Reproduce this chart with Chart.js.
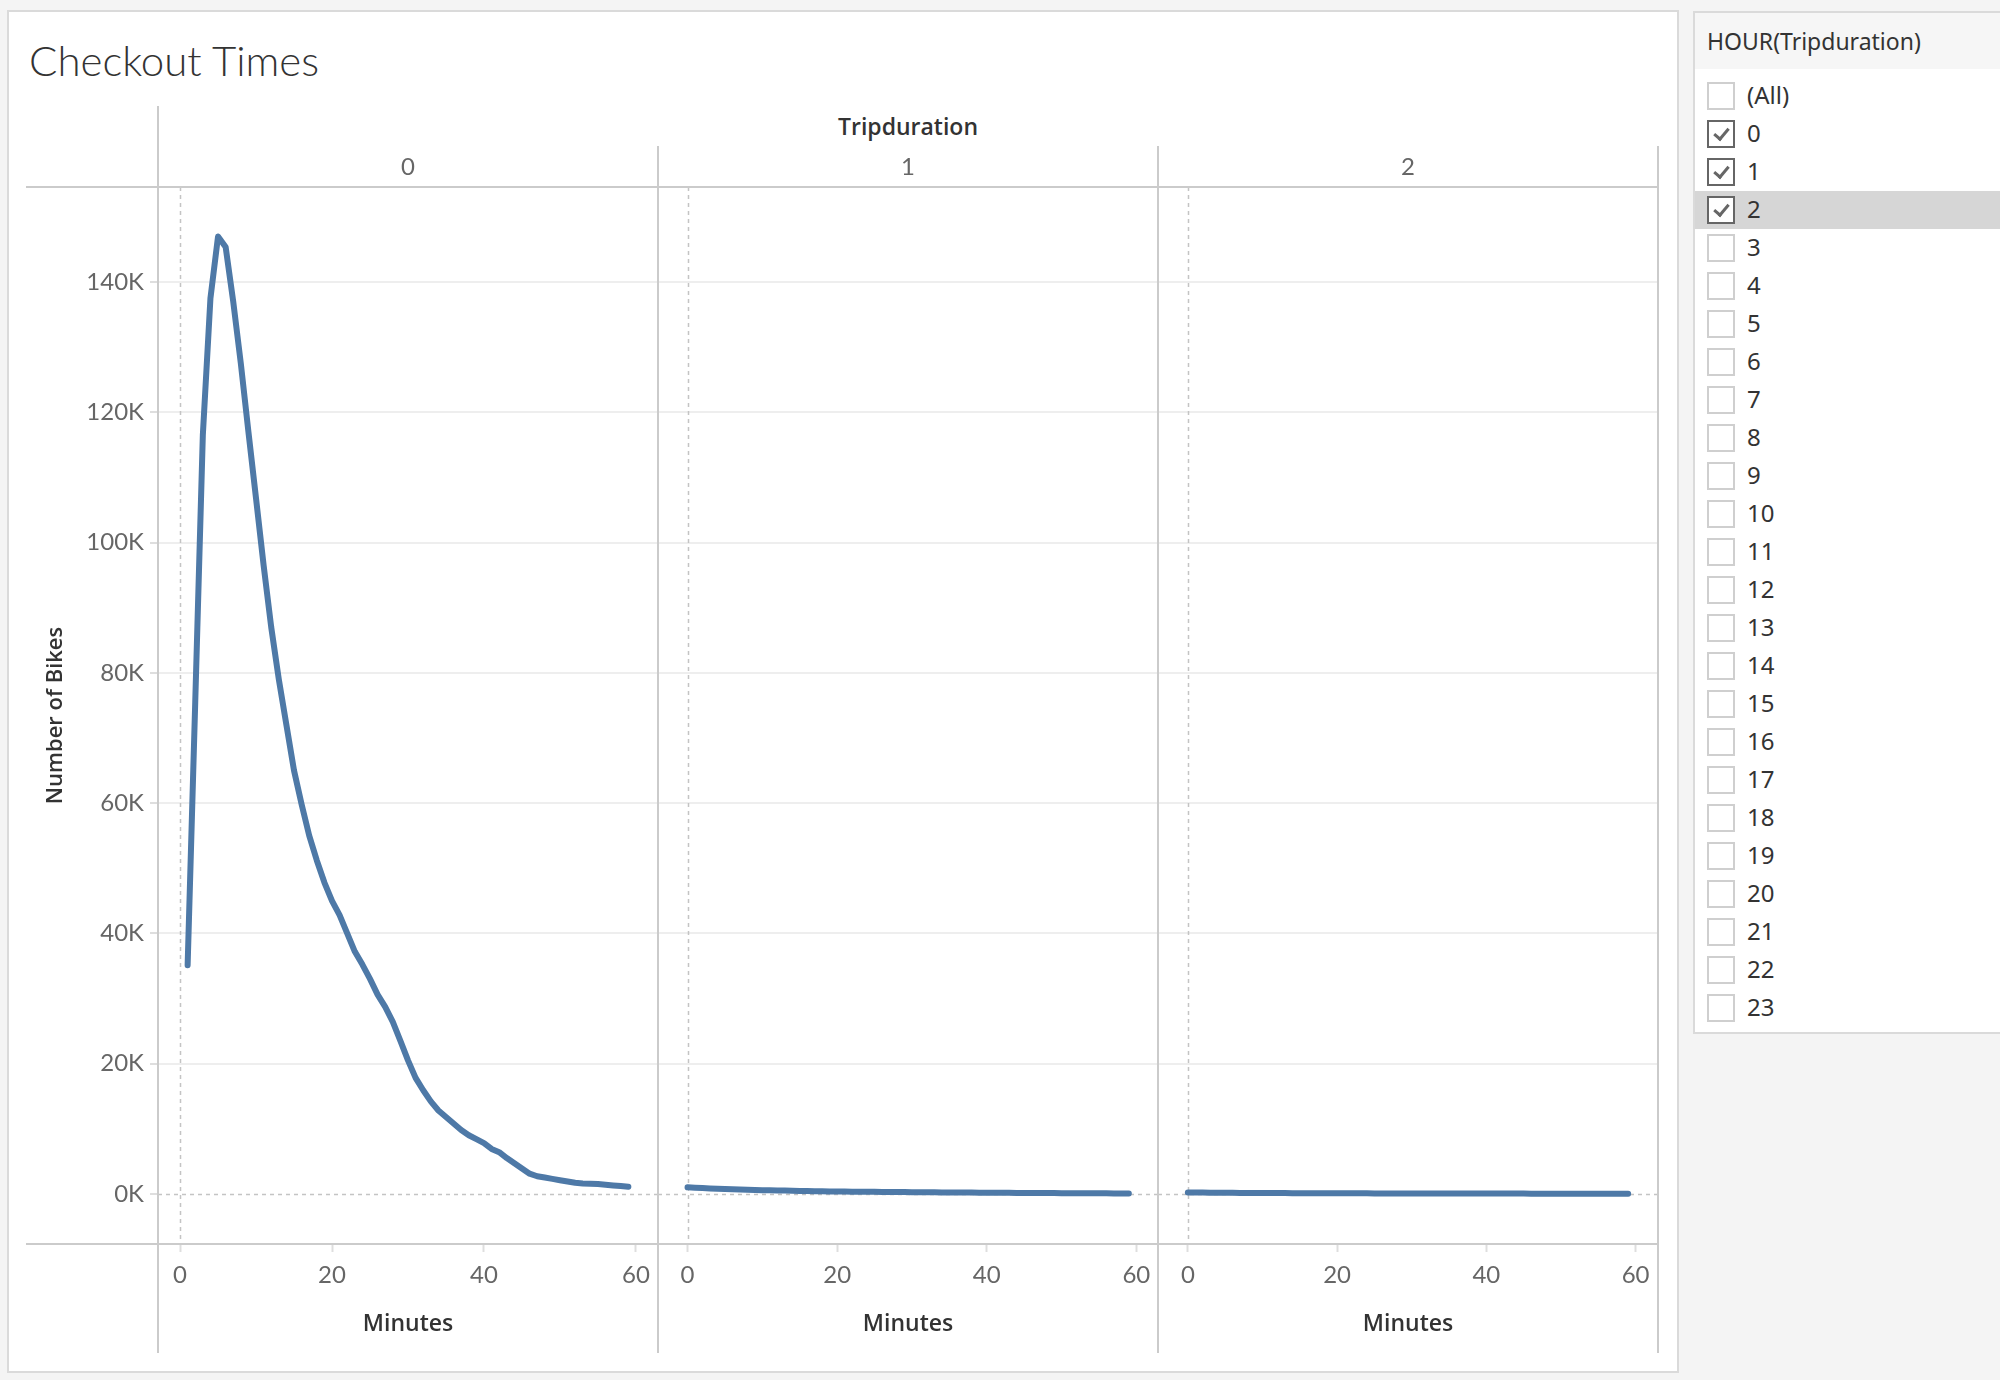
<!DOCTYPE html>
<html>
<head>
<meta charset="utf-8">
<title>Checkout Times</title>
<script src="https://cdn.jsdelivr.net/npm/chart.js@4.4.0/dist/chart.umd.min.js"></script>
<style>
  body { margin: 0; width: 2000px; height: 1380px; background: #f4f4f4; position: relative; overflow: hidden; font-family: Lato, sans-serif; }
  .abs { position: absolute; }
  #sheet { left: 7px; top: 10px; width: 1672px; height: 1363px; background: #fff; border: 2px solid #dadada; box-sizing: border-box; }
  #title { left: 29px; top: 39px; font-size: 42px; line-height: 42px; font-weight: 300; color: #333; white-space: nowrap; }
  .rule { background: #cbcbcb; }
  .hdr { width: 500px; text-align: center; white-space: nowrap; }
  #facetTitle { left: 658px; top: 115px; width: 500px; font-family: "Open Sans", sans-serif; font-size: 23px; line-height: 23px; font-weight: 600; color: #333; }
  .facet { top: 154px; font-size: 24px; line-height: 24px; color: #666; }
  canvas { position: absolute; }
  #filter { left: 1693px; top: 11px; width: 312px; height: 1023px; background: #fff; border: 2px solid #dadada; box-sizing: border-box; font-family: "Noto Sans", sans-serif; }
  #filterHead { left: 1695px; top: 13px; width: 310px; height: 56px; background: #f6f6f6; }
  #filterTitle { left: 1707px; top: 26px; font-size: 23px; line-height: 30px; color: #333; font-family: "Noto Sans", sans-serif; white-space: nowrap; }
  .row { left: 1695px; width: 310px; height: 38px; }
  .row.sel { background: #d6d6d6; }
  .box { left: 1707px; width: 28px; height: 28px; border: 2px solid #cfcfcf; box-sizing: border-box; background: #fff; }
  .box.on { border-color: #666; }
  .box.on::after { content: ''; position: absolute; left: 8px; top: 3px; width: 6px; height: 12px; border-right: 3px solid #666; border-bottom: 3px solid #666; transform: rotate(40deg); }
  .lbl { left: 1747px; font-size: 24px; line-height: 38px; color: #333; font-family: "Noto Sans", sans-serif; white-space: nowrap; }
</style>
</head>
<body>
<div id="sheet" class="abs"></div>
<div id="title" class="abs">Checkout Times</div>
<div id="facetTitle" class="abs hdr">Tripduration</div>

<canvas id="c0" width="632" height="1166" style="left:26px;top:187px"></canvas>
<canvas id="c1" width="500" height="1166" style="left:658px;top:187px"></canvas>
<canvas id="c2" width="500" height="1166" style="left:1158px;top:187px"></canvas>

<div class="abs rule" style="left:26px;top:186px;width:1633px;height:2px"></div>
<div class="abs rule" style="left:26px;top:1243px;width:1633px;height:2px"></div>
<div class="abs rule" style="left:157px;top:106px;width:2px;height:1247px"></div>
<div class="abs rule" style="left:657px;top:146px;width:2px;height:1207px"></div>
<div class="abs rule" style="left:1157px;top:146px;width:2px;height:1207px"></div>
<div class="abs rule" style="left:1657px;top:146px;width:2px;height:1207px"></div>

<div id="filter" class="abs"></div>
<div id="filterHead" class="abs"></div>
<div id="filterTitle" class="abs">HOUR(Tripduration)</div>

<script>
"use strict";

// minutes of trip duration (x values)
const minutes = [0, 1, 2, 3, 4, 5, 6, 7, 8, 9, 10, 11, 12, 13, 14, 15, 16, 17, 18, 19,
    20, 21, 22, 23, 24, 25, 26, 27, 28, 29, 30, 31, 32, 33, 34, 35, 36, 37, 38, 39,
    40, 41, 42, 43, 44, 45, 46, 47, 48, 49, 50, 51, 52, 53, 54, 55, 56, 57, 58, 59];

const hourLabels = ['0', '1', '2'];

// number of bikes per minute, one list per hour of trip duration
const bikesHour0 = [null, 35100, 75500, 116500, 137500, 147000, 145400, 137000, 127500, 117000,
    106800, 96500, 87000, 79000, 72000, 65000, 59800, 55000, 51200, 47800,
    45000, 42800, 40000, 37200, 35200, 33000, 30600, 28700, 26400, 23500,
    20500, 17800, 15900, 14200, 12800, 11800, 10800, 9800, 9000, 8400,
    7800, 6900, 6400, 5500, 4700, 3900, 3100, 2700, 2500, 2300,
    2100, 1900, 1700, 1600, 1550, 1500, 1400, 1300, 1200, 1100];

const bikesHour1 = [1000, 930, 880, 830, 780, 730, 690, 660, 630, 600,
    570, 550, 520, 500, 480, 450, 430, 410, 400, 380,
    370, 350, 340, 330, 320, 310, 300, 290, 280, 270,
    260, 250, 240, 230, 220, 210, 200, 200, 190, 180,
    180, 170, 160, 160, 150, 150, 140, 140, 130, 130,
    110, 100, 100, 90, 90, 80, 80, 70, 70, 60];

const bikesHour2 = [210, 200, 190, 180, 170, 160, 155, 150, 140, 135,
    130, 125, 120, 115, 110, 105, 100, 95, 92, 90,
    86, 82, 80, 76, 74, 70, 68, 66, 63, 60,
    58, 56, 54, 52, 50, 48, 47, 45, 44, 42,
    41, 40, 38, 37, 36, 35, 34, 33, 32, 31,
    30, 29, 28, 27, 27, 26, 25, 25, 24, 23];

const yTicks = [0, 20000, 40000, 60000, 80000, 100000, 120000, 140000];
const xTicks = [0, 20, 40, 60];

const filterItems = ['(All)', '0', '1', '2', '3', '4', '5', '6', '7', '8', '9', '10', '11',
    '12', '13', '14', '15', '16', '17', '18', '19', '20', '21', '22', '23'];
const checkedItems = ['0', '1', '2'];
const highlightedItem = '2';

// facet headers
hourLabels.forEach((h, i) => {
    const d = document.createElement('div');
    d.className = 'abs hdr facet';
    d.style.left = (158 + i * 500) + 'px';
    d.textContent = h;
    document.body.appendChild(d);
});

// filter list
filterItems.forEach((item, i) => {
    const yc = 96 + i * 38;
    const row = document.createElement('div');
    row.className = 'abs row' + (item === highlightedItem ? ' sel' : '');
    row.style.top = (yc - 19) + 'px';
    document.body.appendChild(row);

    const box = document.createElement('div');
    box.className = 'abs box' + (checkedItems.includes(item) ? ' on' : '');
    box.style.top = (yc - 14) + 'px';
    document.body.appendChild(box);

    const lbl = document.createElement('div');
    lbl.className = 'abs lbl';
    lbl.style.top = (yc - 20) + 'px';
    lbl.textContent = item;
    document.body.appendChild(lbl);
});

Chart.defaults.font.family = 'Lato, sans-serif';

const boldFont = size => ({family: '"Open Sans", sans-serif', size: size, weight: 600});

// dashed zero reference lines, like Tableau's
const zeroLines = {
    id: 'zeroLines',
    beforeDatasetsDraw(chart) {
        const {ctx, chartArea: a, scales: {x, y}} = chart;
        const px = Math.round(x.getPixelForValue(0)) + 0.5;
        const py = Math.round(y.getPixelForValue(0)) + 0.5;
        ctx.save();
        ctx.strokeStyle = '#c4c4c4';
        ctx.lineWidth = 1.5;
        ctx.setLineDash([4, 4]);
        ctx.beginPath();
        ctx.moveTo(px, a.top);
        ctx.lineTo(px, a.bottom);
        ctx.moveTo(a.left, py);
        ctx.lineTo(a.right, py);
        ctx.stroke();
        ctx.restore();
    }
};

function makePanel(id, values, xMin, xMax, withYAxis) {
    const points = values.map((v, i) => ({x: minutes[i], y: v}));
    return new Chart(document.getElementById(id), {
        type: 'line',
        data: {
            datasets: [{
                data: points,
                borderColor: '#4e79a7',
                borderWidth: 6,
                pointRadius: 0,
                tension: 0,
                borderCapStyle: 'round',
                borderJoinStyle: 'round'
            }]
        },
        options: {
            responsive: false,
            devicePixelRatio: 1,
            animation: false,
            layout: {padding: 0},
            plugins: {legend: {display: false}, tooltip: {enabled: false}},
            scales: {
                x: {
                    type: 'linear',
                    min: xMin,
                    max: xMax,
                    afterBuildTicks: s => { s.ticks = xTicks.map(v => ({value: v})); },
                    afterFit: s => { s.height = 109; s.paddingLeft = 0; s.paddingRight = 0; },
                    border: {display: false},
                    grid: {drawOnChartArea: false, drawTicks: true, tickLength: 8, tickColor: '#dedede', tickWidth: 2},
                    ticks: {color: '#666', font: {size: 24}, padding: 9, maxRotation: 0, autoSkip: false},
                    title: {display: true, text: 'Minutes', color: '#333', font: boldFont(23), padding: {top: 0, bottom: 15}}
                },
                y: {
                    min: -7700,
                    max: 154600,
                    afterBuildTicks: s => { s.ticks = yTicks.map(v => ({value: v})); },
                    afterFit: s => { s.width = withYAxis ? 132 : 0; s.paddingTop = 0; s.paddingBottom = 0; },
                    border: {display: false},
                    grid: {
                        color: c => (c.tick && c.tick.value === 0) ? 'rgba(0,0,0,0)' : '#eeeeee',
                        lineWidth: 2,
                        drawTicks: withYAxis,
                        tickLength: 8,
                        tickColor: '#dedede',
                        tickWidth: 2
                    },
                    ticks: {
                        display: withYAxis,
                        color: '#666',
                        font: {size: 24},
                        padding: 6,
                        callback: v => (v / 1000) + 'K'
                    },
                    title: {display: withYAxis, text: 'Number of Bikes', color: '#333', font: boldFont(22), padding: {top: 17, bottom: 0}}
                }
            }
        },
        plugins: [zeroLines]
    });
}

makePanel('c0', bikesHour0, -2.9, 62.9, true);
makePanel('c1', bikesHour1, -3.95, 62.9, false);
makePanel('c2', bikesHour2, -4.0, 63.0, false);
</script>
</body>
</html>
